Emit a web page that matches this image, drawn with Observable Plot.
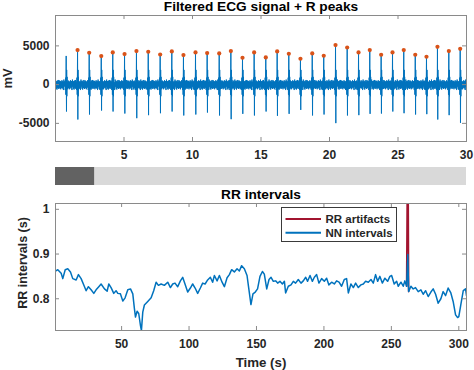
<!DOCTYPE html>
<html>
<head>
<meta charset="utf-8">
<script src="https://cdn.jsdelivr.net/npm/d3@7"></script>
<script src="https://cdn.jsdelivr.net/npm/@observablehq/plot@0.6"></script>
<style>
  html, body { margin: 0; padding: 0; background: #fff; }
  #wrap { position: relative; width: 474px; height: 370px; overflow: hidden; font-family: "Liberation Sans", Arial, sans-serif; }
  #wrap > svg, #wrap > div { position: absolute; left: 0; }
</style>
</head>
<body>
<div id="wrap"></div>
<script>
// ---------------- DATA ----------------
// Top panel: filtered ECG, first 30 s
const ecgTitle = "Filtered ECG signal + R peaks";
const ecgYLabel = "mV";
const ecgXDomain = [0, 30];
const ecgYDomain = [-7340, 8920];
const ecgXTicks = [5, 10, 15, 20, 25, 30];
const ecgYTicks = [-5000, 0, 5000];

// beat times (s), spike tops and troughs (mV); first beat has no detected R peak
const beatTimes = [0.78, 1.61, 2.46, 3.34, 4.18, 5.04, 5.91, 6.77, 7.64, 8.49, 9.34, 10.22, 11.07, 11.95, 12.80,
  13.65, 14.50, 15.35, 16.18, 17.03, 17.88, 18.74, 19.58, 20.44, 21.29, 22.12, 22.94, 23.77, 24.60, 25.42,
  26.26, 27.08, 27.88, 28.71, 29.54];
const beatPeaks = [3700, 4460, 4110, 3690, 4150, 3945, 4330, 4240, 3890, 4280, 3815, 4150, 4070, 4020, 4330,
  3470, 4150, 3510, 4280, 3985, 3340, 4020, 3725, 5100, 4790, 4150, 4460, 3855, 4150, 4460,
  3855, 3600, 4880, 4330, 4625];
const beatTroughs = [-3470, -4500, -3855, -3340, -3470, -3730, -4330, -3940, -3690, -3470, -3980, -3855, -3600, -3980, -4460,
  -3770, -3980, -3470, -4020, -3770, -3260, -3980, -3855, -4970, -3980, -3940, -3770, -3730, -3470, -3690,
  -3855, -3810, -4500, -3940, -4930];
const rPeakDetected = [false, true, true, true, true, true, true, true, true, true, true, true, true, true, true,
  true, true, true, true, true, true, true, true, true, true, true, true, true, true, true,
  true, true, true, true, true];

// QRS complex around each beat: time offsets (s) and levels (mV), "R"/"S" = spike top/trough
const beatOffsets = [-0.10, -0.07, -0.045, -0.025, -0.01, 0, 0.012, 0.022, 0.035, 0.05, 0.065, 0.085, 0.11];
const beatLevels  = [400, -700, 900, -1300, 1500, "R", -500, "S", 1900, -1500, 1000, -600, 300];
// baseline wiggle of the filtered trace (mV), sampled every 12 ms
const baselineStep = 0.012;
const baselineWiggle = [120, -260, 340, -180, 450, -520, 210, -90, 380, -640, 160, 520, -310, 60, -450, 290,
  -120, 600, -380, 240, -560, 90, 410, -230, -30, 530, -470, 180, -340, 460, -150, 320, -600, 260, -80, 390,
  -420, 140, -270, 560, -190, 30, -500, 350, -110, 470, -330, 200, -700, 280, -40, 650];

// Bottom panel: RR / NN intervals over the whole recording
const rrTitle = "RR intervals";
const rrXLabel = "Time (s)";
const rrYLabel = "RR intervals (s)";
const rrXDomain = [1, 305.7];
const rrYDomain = [0.729, 1.013];
const rrXTicks = [50, 100, 150, 200, 250, 300];
const rrYTicks = [0.8, 0.9, 1];

const nnTime = [1.0, 2.7, 5.2, 6.4, 8.2, 10.1, 12.1, 13.8, 16.3, 18.0, 20.0, 22.5, 23.7, 25.4, 27.4, 29.4,
  31.1, 33.1, 34.8, 37.3, 39.3, 40.5, 42.2, 44.2, 45.9, 47.2, 49.1, 50.9, 52.6, 54.6, 56.6, 58.3,
  59.5, 60.3, 61.5, 62.7, 64.0, 64.7, 65.7, 66.9, 69.4, 71.9, 73.8, 75.6, 77.3, 79.3, 81.7, 84.2,
  86.2, 87.9, 89.6, 91.6, 93.6, 95.3, 97.0, 99.0, 101.0, 102.7, 104.5, 106.4, 108.4, 110.1, 111.9, 113.8,
  115.8, 117.5, 118.8, 120.8, 122.5, 124.5, 126.2, 128.2, 129.9, 131.6, 133.6, 135.6, 137.3, 139.0, 141.0, 143.0,
  144.2, 145.9, 147.4, 149.1, 150.8, 152.6, 154.4, 155.8, 157.6, 159.3, 160.8, 162.5, 164.2, 165.7, 167.4, 169.2,
  170.7, 171.6, 173.6, 175.6, 177.3, 179.0, 181.0, 183.0, 184.7, 186.5, 187.9, 189.7, 191.4, 192.9, 194.6, 196.3,
  198.3, 200.3, 202.0, 203.7, 205.7, 207.7, 209.4, 211.2, 213.1, 215.1, 216.8, 218.1, 220.0, 221.8, 223.5, 225.5,
  227.4, 229.2, 230.9, 232.9, 234.9, 236.6, 238.3, 239.8, 241.5, 243.3, 245.2, 247.2, 248.9, 250.2, 252.1, 253.9,
  255.1, 257.1, 258.8, 260.0, 261.3, 262.2, 262.8, 264.5, 266.2, 267.9, 269.9, 271.9, 273.6, 275.4, 277.3, 279.3,
  281.0, 282.8, 284.7, 286.7, 288.4, 290.2, 292.1, 294.1, 295.8, 297.6, 299.1, 300.0, 301.5, 303.3, 305.0, 305.7];
const nnValue = [0.862, 0.865, 0.857, 0.845, 0.865, 0.867, 0.860, 0.845, 0.842, 0.854, 0.845, 0.827, 0.818, 0.827, 0.820, 0.812,
  0.820, 0.827, 0.833, 0.822, 0.817, 0.833, 0.825, 0.812, 0.818, 0.812, 0.811, 0.795, 0.802, 0.820, 0.822, 0.811,
  0.778, 0.759, 0.772, 0.767, 0.740, 0.729, 0.770, 0.786, 0.794, 0.802, 0.818, 0.837, 0.830, 0.833, 0.830, 0.837,
  0.825, 0.833, 0.835, 0.827, 0.840, 0.848, 0.833, 0.815, 0.824, 0.833, 0.824, 0.812, 0.824, 0.835, 0.833, 0.842,
  0.848, 0.837, 0.852, 0.840, 0.852, 0.837, 0.827, 0.847, 0.854, 0.865, 0.860, 0.867, 0.862, 0.874, 0.867, 0.852,
  0.825, 0.787, 0.811, 0.815, 0.822, 0.850, 0.861, 0.855, 0.822, 0.843, 0.848, 0.839, 0.840, 0.835, 0.839, 0.833,
  0.839, 0.813, 0.828, 0.831, 0.839, 0.835, 0.843, 0.835, 0.840, 0.848, 0.839, 0.852, 0.839, 0.848, 0.854, 0.835,
  0.845, 0.839, 0.846, 0.831, 0.837, 0.833, 0.840, 0.837, 0.828, 0.843, 0.845, 0.813, 0.833, 0.825, 0.835, 0.825,
  0.831, 0.833, 0.839, 0.837, 0.843, 0.835, 0.854, 0.839, 0.850, 0.835, 0.846, 0.839, 0.850, 0.852, 0.833, 0.839,
  0.828, 0.837, 0.828, 0.840, 0.828, 0.899, 0.816, 0.828, 0.822, 0.825, 0.816, 0.820, 0.810, 0.818, 0.805, 0.815,
  0.822, 0.810, 0.790, 0.800, 0.816, 0.807, 0.824, 0.813, 0.794, 0.764, 0.758, 0.760, 0.787, 0.818, 0.822, 0.807];
// the artifact beat (uncorrected RR series around it)
const artifactTime = [261.3, 262.2, 262.8];
const artifactValue = [0.828, 1.25, 0.816];

const legendLabels = ["RR artifacts", "NN intervals"];
const colors = { ecg: "#0072BD", peaks: "#D95319", nn: "#0072BD", artifact: "#A2142F" };

// ---------------- BUILD TABLES ----------------
const beatWindows = beatTimes.map(t => [t + beatOffsets[0], t + beatOffsets[beatOffsets.length - 1]]);
const ecg = [];
for (let i = 0; ; i++) {
  const t = i * baselineStep;
  if (t > ecgXDomain[1]) break;
  if (beatWindows.some(([a, b]) => t >= a && t <= b)) continue;
  ecg.push({ t, v: baselineWiggle[i % baselineWiggle.length] });
}
beatTimes.forEach((bt, i) => {
  beatOffsets.forEach((o, j) => {
    const lv = beatLevels[j];
    const v = lv === "R" ? beatPeaks[i] : lv === "S" ? beatTroughs[i] : lv;
    ecg.push({ t: bt + o, v });
  });
});
ecg.sort((a, b) => a.t - b.t);

const rPeaks = beatTimes.map((t, i) => ({ t, v: beatPeaks[i], ok: rPeakDetected[i] })).filter(d => d.ok);
const nn = nnTime.map((t, i) => ({ t, v: nnValue[i] }));
const artifacts = artifactTime.map((t, i) => ({ t, v: artifactValue[i] }));

// ---------------- DRAW ----------------
const FONT = "Liberation Sans, Arial, sans-serif";
const baseStyle = { fontFamily: FONT, fontSize: "12px", fontWeight: "bold", color: "#262626", background: "transparent", overflow: "visible" };
const frameColor = "#8a8a8a";
const tickLen = 4;

function innerTicks(xt, yt, fw, fh) {
  return [
    Plot.ruleX(xt, { x: d => d, insetTop: fh - tickLen, stroke: frameColor }),
    Plot.ruleX(xt, { x: d => d, insetBottom: fh - tickLen, stroke: frameColor }),
    Plot.ruleY(yt, { y: d => d, insetRight: fw - tickLen, stroke: frameColor }),
    Plot.ruleY(yt, { y: d => d, insetLeft: fw - tickLen, stroke: frameColor })
  ];
}

const wrap = document.getElementById("wrap");

// top panel
{
  const W = 474, H = 165, mt = 15, mb = 24, ml = 55, mr = 8;
  const fw = W - ml - mr, fh = H - mt - mb;
  const p = Plot.plot({
    width: W, height: H, marginTop: mt, marginBottom: mb, marginLeft: ml, marginRight: mr,
    style: baseStyle,
    x: { domain: ecgXDomain, label: null },
    y: { domain: ecgYDomain, label: null },
    marks: [
      Plot.line(ecg, { x: "t", y: "v", stroke: colors.ecg, strokeWidth: 1, clip: true }),
      Plot.dot(rPeaks, { x: "t", y: "v", r: 2.1, fill: colors.peaks, stroke: "none" }),
      Plot.frame({ stroke: frameColor }),
      ...innerTicks(ecgXTicks, ecgYTicks, fw, fh),
      Plot.axisX(ecgXTicks, { anchor: "bottom", tickSize: 0, tickPadding: 9, fontWeight: "bold", fill: "#262626", label: null }),
      Plot.axisY(ecgYTicks, { anchor: "left", tickSize: 0, tickPadding: 6, fontWeight: "bold", fill: "#262626", label: null, tickFormat: d => String(d) }),
      Plot.text([ecgTitle], { text: d => d, frameAnchor: "top", lineAnchor: "middle", textAnchor: "middle", dy: -9, fontSize: 13.7, fontWeight: "bold", fill: "#000" }),
      Plot.text([ecgYLabel], { text: d => d, frameAnchor: "left", textAnchor: "middle", lineAnchor: "middle", dx: -48, rotate: -90, fontSize: 13, fontWeight: "bold", fill: "#262626" })
    ]
  });
  p.style.top = "0px";
  wrap.appendChild(p);
}

// progress bar (shown window within the recording)
{
  const bar = Plot.plot({
    width: 474, height: 28, marginTop: 5, marginBottom: 5, marginLeft: 55, marginRight: 8,
    style: baseStyle,
    x: { domain: rrXDomain, axis: null },
    marks: [
      Plot.barX([{ a: rrXDomain[0], b: rrXDomain[1] }], { x1: "a", x2: "b", fill: "#d9d9d9" }),
      Plot.barX([{ a: rrXDomain[0], b: ecgXDomain[1] }], { x1: "a", x2: "b", fill: "#626262" })
    ]
  });
  bar.style.top = "162px";
  wrap.appendChild(bar);
}

// bottom panel
{
  const W = 474, H = 184, mt = 17, mb = 40, ml = 55, mr = 8;
  const fw = W - ml - mr, fh = H - mt - mb;
  const p = Plot.plot({
    width: W, height: H, marginTop: mt, marginBottom: mb, marginLeft: ml, marginRight: mr,
    style: baseStyle,
    x: { domain: rrXDomain, label: null },
    y: { domain: rrYDomain, label: null },
    marks: [
      Plot.line(artifacts, { x: "t", y: "v", stroke: colors.artifact, strokeWidth: 1.6, clip: true }),
      Plot.line(nn, { x: "t", y: "v", stroke: colors.nn, strokeWidth: 1.5, clip: true }),
      Plot.frame({ stroke: frameColor }),
      ...innerTicks(rrXTicks, rrYTicks, fw, fh),
      Plot.axisX(rrXTicks, { anchor: "bottom", tickSize: 0, tickPadding: 8.5, fontWeight: "bold", fill: "#262626", label: null }),
      Plot.axisY(rrYTicks, { anchor: "left", tickSize: 0, tickPadding: 6, fontWeight: "bold", fill: "#262626", label: null, tickFormat: d => String(d) }),
      Plot.text([rrTitle], { text: d => d, frameAnchor: "top", lineAnchor: "middle", textAnchor: "middle", dy: -9, fontSize: 13.7, fontWeight: "bold", fill: "#000" }),
      Plot.text([rrXLabel], { text: d => d, frameAnchor: "bottom", lineAnchor: "middle", textAnchor: "middle", dy: 32, fontSize: 13.3, fontWeight: "bold", fill: "#262626" }),
      Plot.text([rrYLabel], { text: d => d, frameAnchor: "left", textAnchor: "middle", lineAnchor: "middle", dx: -33, dy: -4, rotate: -90, fontSize: 12.5, fontWeight: "bold", fill: "#262626" })
    ]
  });
  p.style.top = "186px";
  wrap.appendChild(p);
}

// legend
{
  const ns = "http://www.w3.org/2000/svg";
  const svg = document.createElementNS(ns, "svg");
  svg.setAttribute("width", 118); svg.setAttribute("height", 36);
  svg.style.position = "absolute"; svg.style.left = "281px"; svg.style.top = "207px";
  const rect = document.createElementNS(ns, "rect");
  Object.entries({ x: 0.5, y: 0.5, width: 115, height: 34, fill: "#fff", stroke: "#3a3a3a", "stroke-width": 1 }).forEach(([k, v]) => rect.setAttribute(k, v));
  svg.appendChild(rect);
  [colors.artifact, colors.nn].forEach((c, i) => {
    const y = 12 + i * 13.7;
    const ln = document.createElementNS(ns, "line");
    Object.entries({ x1: 4.5, x2: 40, y1: y, y2: y, stroke: c, "stroke-width": 2 }).forEach(([k, v]) => ln.setAttribute(k, v));
    svg.appendChild(ln);
    const tx = document.createElementNS(ns, "text");
    Object.entries({ x: 44.5, y: y, "dominant-baseline": "central", "font-family": FONT, "font-size": 11.5, "font-weight": "bold", fill: "#262626" }).forEach(([k, v]) => tx.setAttribute(k, v));
    tx.textContent = legendLabels[i];
    svg.appendChild(tx);
  });
  wrap.appendChild(svg);
}
</script>
</body>
</html>
